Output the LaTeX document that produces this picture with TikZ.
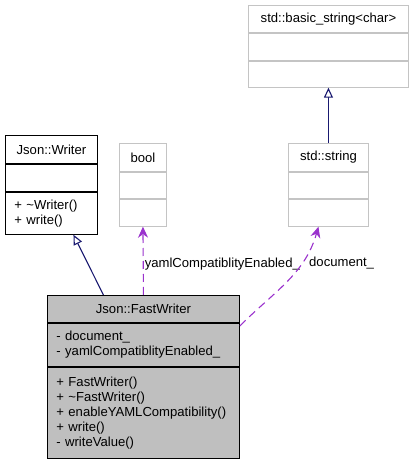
\documentclass[tikz,border=0pt]{standalone}
\usepackage{fontspec}
\setmainfont{Liberation Sans}
\usepackage{tikz}
\usetikzlibrary{positioning,calc,arrows.meta}
\definecolor{navy}{HTML}{191970}
\definecolor{orchid}{HTML}{9A32CD}
\definecolor{boxgrey}{HTML}{BFBFBF}
\definecolor{extgrey}{HTML}{C4C4C4}
\newcommand{\umlfont}{\fontsize{13.1}{15}\selectfont}
\tikzset{
  part/.style={draw=black, fill=white, line width=0.9pt, inner xsep=9pt, inner ysep=0pt, font=\umlfont},
  ext/.style={part, draw=extgrey},
  cur/.style={part, fill=boxgrey},
  body/.style={align=left},
  inh/.style={draw=navy, line width=1.1pt, -{Triangle[open, length=10pt, width=9pt, fill=white]}},
  use/.style={draw=orchid, line width=1.1pt, dash pattern=on 8pt off 5pt, -{Stealth[length=11pt, width=10pt, inset=3.5pt]}},
  lab/.style={font=\umlfont, inner sep=1pt},
}
\begin{document}
\begin{tikzpicture}[x=1pt, y=1pt]
  \useasboundingbox (0,0) rectangle (412,461);
  % Json::Writer
  \node[part, minimum width=92pt, minimum height=28pt, anchor=north west] (writer) at (5,326) {Json::Writer};
  \node[part, minimum width=92pt, minimum height=27pt, below=0pt of writer] (writer-a) {};
  \node[part, body, text width=74pt, minimum height=42pt, below=0pt of writer-a] (writer-o) {+ \textasciitilde Writer()\\+ write()};
  % bool
  \node[ext, minimum width=47pt, minimum height=28pt, anchor=north west] (bool) at (119,318) {bool};
  \node[ext, minimum width=47pt, minimum height=26pt, below=0pt of bool] (bool-a) {};
  \node[ext, minimum width=47pt, minimum height=27pt, below=0pt of bool-a] (bool-o) {};
  % std::basic_string<char>
  \node[ext, minimum width=160pt, minimum height=27pt, anchor=north west] (bs) at (248,456) {std::basic\_string<char>};
  \node[ext, minimum width=160pt, minimum height=27pt, below=0pt of bs] (bs-a) {};
  \node[ext, minimum width=160pt, minimum height=26pt, below=0pt of bs-a] (bs-o) {};
  % std::string
  \node[ext, minimum width=80pt, minimum height=28pt, anchor=north west] (str) at (288,318) {std::string};
  \node[ext, minimum width=80pt, minimum height=26pt, below=0pt of str] (str-a) {};
  \node[ext, minimum width=80pt, minimum height=27pt, below=0pt of str-a] (str-o) {};
  % Json::FastWriter
  \node[cur, minimum width=192pt, minimum height=27pt, anchor=north west] (fw) at (47,166) {Json::FastWriter};
  \node[cur, body, text width=174pt, minimum height=43pt, below=0pt of fw] (fw-a) {- document\_\\- yamlCompatiblityEnabled\_};
  \node[cur, body, text width=174pt, minimum height=91pt, below=0pt of fw-a] (fw-o) {+ FastWriter()\\+ \textasciitilde FastWriter()\\+ enableYAMLCompatibility()\\+ write()\\- writeValue()};
  % relations
  \draw[inh] (str.north) -- (bs-o.south);
  \draw[inh] ($(fw.north)+(-40,0)$) -- ($(writer-o.south)+(22,0)$);
  \draw[use] (fw.north) -- node[lab, right, pos=0.45] (yamllab) {yamlCompatiblityEnabled\_} (bool-o.south);
  \draw[use] ($(fw-a.north east)+(0,-3)$) to[out=45, in=-106] ($(str-o.south)+(-10,0)$);
  \node[lab, anchor=west] (doclab) at (308,198) {document\_};
\end{tikzpicture}
\end{document}
